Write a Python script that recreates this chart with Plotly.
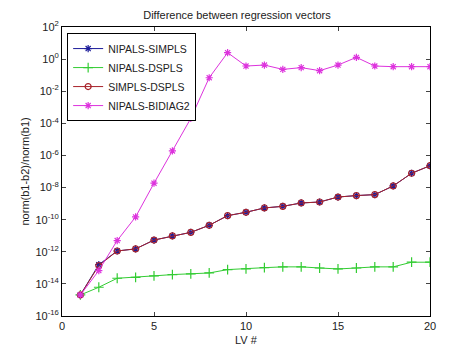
import plotly.graph_objects as go

lv = list(range(1, 21))

nipals_simpls = [-14.69, -12.80, -11.95, -11.82, -11.27, -11.01, -10.79, -10.35, -9.75, -9.54,
                 -9.27, -9.17, -8.96, -8.90, -8.59, -8.50, -8.44, -7.90, -7.11, -6.64]
nipals_dspls = [-14.69, -14.21, -13.65, -13.59, -13.50, -13.42, -13.38, -13.32, -13.11, -13.07,
                -12.99, -12.94, -12.94, -13.01, -13.07, -13.01, -12.94, -12.94, -12.65, -12.65]
simpls_dspls = [-14.69, -12.86, -11.95, -11.82, -11.27, -11.01, -10.79, -10.35, -9.75, -9.54,
                -9.27, -9.17, -8.96, -8.90, -8.59, -8.50, -8.44, -7.90, -7.11, -6.64]
nipals_bidiag2 = [-14.69, -13.17, -11.30, -9.83, -7.73, -5.72, -3.69, -1.16, 0.40, -0.43,
                  -0.37, -0.64, -0.53, -0.72, -0.37, 0.11, -0.43, -0.47, -0.47, -0.47]

series = [
    ("NIPALS-SIMPLS", nipals_simpls, "#1c1c9a", "asterisk-open", 6),
    ("NIPALS-DSPLS", nipals_dspls, "#33cc33", "cross-thin-open", 7),
    ("SIMPLS-DSPLS", simpls_dspls, "#a8222a", "circle-open", 6),
    ("NIPALS-BIDIAG2", nipals_bidiag2, "#dd33dd", "asterisk-open", 6),
]

ytick_exp = list(range(-16, 3, 2))

fig = go.Figure()
for name, logs, color, sym, sz in series:
    fig.add_trace(go.Scatter(
        x=lv, y=[10 ** v for v in logs], name=name, mode="lines+markers",
        line=dict(color=color, width=1),
        marker=dict(symbol=sym, size=sz, color=color, line=dict(color=color, width=1.2)),
    ))

font = dict(family="Liberation Sans, Arial, sans-serif", size=11, color="#222222")
fig.update_layout(
    width=474, height=355,
    margin=dict(l=62, r=44, t=27, b=39, autoexpand=False),
    paper_bgcolor="white", plot_bgcolor="white",
    font=font,
    title=dict(text="Difference between regression vectors", x=0.5, xanchor="center",
               y=1 - 15 / 355, yanchor="middle", font=dict(size=11, color="#222222")),
    showlegend=True,
    legend=dict(x=0.014, y=0.979, xanchor="left", yanchor="top",
                bordercolor="black", borderwidth=1, bgcolor="white",
                font=dict(size=10.5, color="#222222"), tracegroupgap=0,
                itemwidth=30),
    xaxis=dict(range=[0, 20], tickvals=[0, 5, 10, 15, 20], ticks="inside", ticklen=4,
               showline=True, linecolor="black", linewidth=1, mirror="ticks",
               showgrid=False, zeroline=False, automargin=False),
    yaxis=dict(type="log", range=[-16, 2], tickvals=[10 ** e for e in ytick_exp],
               ticktext=[f"10<sup>{e}</sup>" for e in ytick_exp],
               ticks="inside", ticklen=4,
               showline=True, linecolor="black", linewidth=1, mirror="ticks",
               showgrid=False, zeroline=False, automargin=False),
    annotations=[
        dict(text="LV #", xref="paper", yref="paper", x=0.5, y=-24 / 289,
             xanchor="center", yanchor="middle", showarrow=False, font=dict(size=11)),
        dict(text="norm(b1-b2)/norm(b1)", xref="paper", yref="paper", x=-38 / 368, y=0.5,
             xanchor="center", yanchor="middle", textangle=-90, showarrow=False,
             font=dict(size=11)),
    ],
)

fig.write_html("out.html", config={"displayModeBar": False},
               post_script="document.body.style.margin='0px';")
